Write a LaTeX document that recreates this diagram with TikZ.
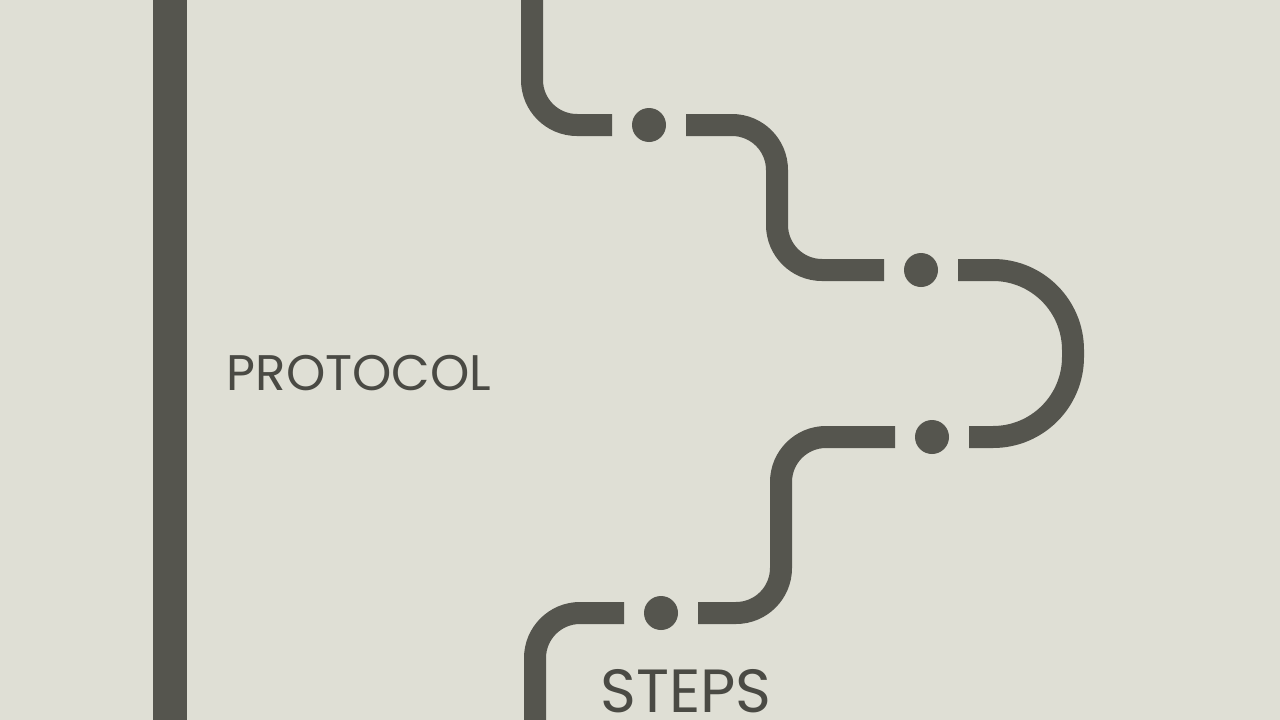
\documentclass[tikz,border=0pt]{standalone}
\usepackage{fontspec}
\setmainfont{Poppins}
\definecolor{bgc}{HTML}{DFDFD5}
\definecolor{ink}{HTML}{55554E}
\definecolor{txt}{HTML}{4A4A44}
\begin{document}
\begin{tikzpicture}[x=1pt,y=-1pt,
  dot/.style={circle,fill=ink,inner sep=0pt,minimum size=34pt,outer sep=20pt},
  track/.style={draw=ink,line width=22pt,rounded corners=45pt},
  label/.style={text=txt,inner sep=0pt}]
\fill[bgc] (0,0) rectangle (1280,720);
\useasboundingbox (0,0) rectangle (1280,720);
% left bar
\fill[ink] (153,-2) rectangle (187,722);
% dots
\node[dot] (d1) at (649,125) {};
\node[dot] (d2) at (921,270) {};
\node[dot] (d3) at (932,437) {};
\node[dot] (d4) at (661,613) {};
% free ends
\coordinate (top) at (532,-20);
\coordinate (bot) at (535,740);
% track segments
\draw[track] (top) |- (d1.west);
\draw[track] (d1.east) -| (777,270) -- (d2.west);
\draw[track,rounded corners=80pt] (d2.east) -| (1073,437) -- (d3.east);
\draw[track] (d3.west) -| (781,613) -- (d4.east);
\draw[track] (d4.west) -| (bot);
% labels
\node[label,anchor=base,font=\fontsize{50}{50}\selectfont] (protocol) at (359,390) {PROTOCOL};
\node[label,anchor=base,font=\fontsize{61}{61}\selectfont] (steps) at (686,712) {STEPS};
\end{tikzpicture}
\end{document}
